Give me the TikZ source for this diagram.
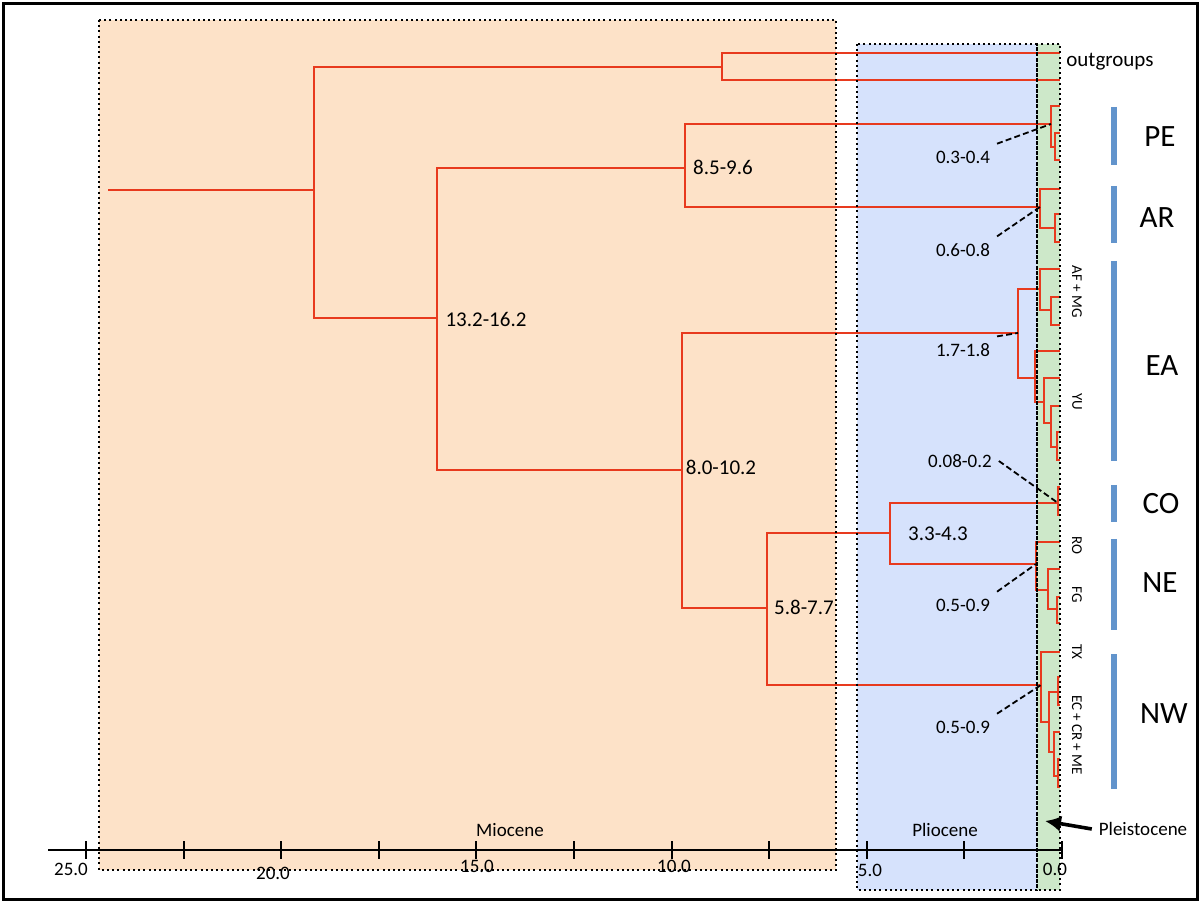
\documentclass[tikz,border=0pt]{standalone}
\usepackage{fontspec}
\setmainfont{Carlito}
\usetikzlibrary{arrows.meta}
\definecolor{treered}{RGB}{232,58,30}
\definecolor{mioorange}{RGB}{253,226,200}
\definecolor{plioblue}{RGB}{214,226,252}
\definecolor{pleigreen}{RGB}{205,232,201}
\definecolor{cladeblue}{RGB}{98,148,204}
\tikzset{branch/.style={treered, line width=1pt}}
\tikzset{epoch/.style={dash pattern=on 1pt off 1.6pt, line width=1.1pt}}
\tikzset{age/.style={font=\fontsize{10.5}{12}\selectfont}}
\tikzset{tipage/.style={font=\fontsize{9.5}{11}\selectfont}}
\tikzset{note/.style={dash pattern=on 3pt off 1.6pt, line width=0.9pt}}
\tikzset{clade/.style={font=\fontsize{15.5}{18}\selectfont}}
\tikzset{bar/.style={cladeblue, line width=3pt}}
\tikzset{sub/.style={rotate=-90, font=\fontsize{7.5}{9}\selectfont}}
\tikzset{scalebar/.style={line width=1pt}}

\begin{document}
\begin{tikzpicture}[x=0.5pt, y=-0.5pt]
\useasboundingbox (0,0) rectangle (1200,903);
\draw[line width=1.5pt] (3,4) rectangle (1197,899);
\fill[mioorange] (99,20) rectangle (836,870);
\fill[plioblue] (857,44) rectangle (1037,890);
\fill[pleigreen] (1037,44) rectangle (1060,890);

% tree
\coordinate (root) at (108,190);
\coordinate (n1) at (314,190);
\coordinate (og) at (722,67);
\coordinate (n2) at (437,318);
\coordinate (n3) at (685,168);
\coordinate (n4) at (682,470);
\coordinate (n5) at (767,608);
\coordinate (n6) at (890,533);
\coordinate (pe) at (1051,124);
\coordinate (p1) at (1055,147);
\coordinate (ar) at (1040,207);
\coordinate (a1) at (1055,228);
\coordinate (ea) at (1018,333);
\coordinate (e1) at (1040,289);
\coordinate (e2) at (1035,378);
\coordinate (e3) at (1051,310);
\coordinate (e4) at (1044,402);
\coordinate (e5) at (1051,423);
\coordinate (e6) at (1057,447);
\coordinate (co) at (1058,503);
\coordinate (ne) at (1036,564);
\coordinate (f1) at (1048,590);
\coordinate (f2) at (1057,609);
\coordinate (nw) at (1041,685);
\coordinate (w1) at (1049,722);
\coordinate (w2) at (1058,692);
\coordinate (w3) at (1054,752);
\coordinate (w4) at (1058,776);
\draw[branch] (root) -- (n1);
\foreach \p/\c in {n1/og, n1/n2, n2/n3, n2/n4, n3/pe, n3/ar, n4/ea, n4/n5, n5/n6, n5/nw, n6/co, n6/ne,
  pe/p1, ar/a1, ea/e1, ea/e2, e1/e3, e2/e4, e4/e5, e5/e6, ne/f1, f1/f2, nw/w1, w1/w2, w1/w3, w3/w4}
  \draw[branch] (\p) |- (\c);
\foreach \p/\y in {og/53, og/80, pe/106, p1/133, p1/160, ar/189, a1/214, a1/242,
  e1/269, e3/297, e3/325, e2/351, e4/378, e5/406, e6/432, e6/460, co/487, co/515,
  ne/542, f1/569, f2/597, f2/623, nw/652, w2/677, w2/705, w3/732, w4/759, w4/787}
  \draw[branch] (\p) |- (1060,\y);

% epochs
\draw[epoch] (99,20) rectangle (836,870);
\draw[epoch] (857,44) rectangle (1037,890);
\draw[epoch] (1037,44) rectangle (1060,890);

\node[age] (a1) at (723,167) {8.5-9.6};
\node[age] (a2) at (486,319) {13.2-16.2};
\node[age] (a3) at (721,467) {8.0-10.2};
\node[age] (a4) at (804,607) {5.8-7.7};
\node[age] (a5) at (938,534) {3.3-4.3};

\node[tipage] (lpe) at (963,157) {0.3-0.4};
\node[tipage] (lar) at (963,250) {0.6-0.8};
\node[tipage] (lea) at (963,350) {1.7-1.8};
\node[tipage] (lco) at (960,461) {0.08-0.2};
\node[tipage] (lne) at (963,605) {0.5-0.9};
\node[tipage] (lnw) at (963,727) {0.5-0.9};
\draw[note] (lpe.north east) -- (pe);
\draw[note] (lar.north east) -- (ar);
\draw[note] (lea.north east) -- (ea);
\draw[note] (lco.east) -- (co);
\draw[note] (lne.north east) -- (ne);
\draw[note] (lnw.north east) -- (nw);

\node[age] (outg) at (1110,62) {outgroups};
\node[sub] (afmg) at (1077,292) {AF + MG};
\node[sub] (yu) at (1077,402) {YU};
\node[sub] (ro) at (1077,545) {RO};
\node[sub] (fg) at (1077,595) {FG};
\node[sub] (tx) at (1077,652) {TX};
\node[sub] (eccr) at (1077,735) {EC + CR + ME};

\draw[bar] (1114,107) -- (1114,165);
\draw[bar] (1114,186) -- (1114,243);
\draw[bar] (1114,261) -- (1114,461);
\draw[bar] (1114,485) -- (1114,522);
\draw[bar] (1114,539) -- (1114,630);
\draw[bar] (1114,654) -- (1114,789);
\node[clade] (cpe) at (1160,137) {PE};
\node[clade] (car) at (1157,218) {AR};
\node[clade] (cea) at (1162,366) {EA};
\node[clade] (cco) at (1161,504) {CO};
\node[clade] (cne) at (1160,583) {NE};
\node[clade] (cnw) at (1164,714) {NW};

% time axis
\draw[scalebar] (48,850) -- (1062,850);
\foreach \i in {0,...,10}
  \draw[scalebar] (86+97.6*\i,841) -- ++(0,18);
\node[tipage] (t25) at (71,869) {25.0};
\node[tipage] (t20) at (273,873) {20.0};
\node[tipage] (t15) at (477,866) {15.0};
\node[tipage] (t10) at (674,866) {10.0};
\node[tipage] (t5) at (870,870) {5.0};
\node[tipage] (t0) at (1055,869) {0.0};
\node[tipage] (mio) at (510,830) {Miocene};
\node[tipage] (plio) at (945,830) {Pliocene};
\node[tipage] (pleis) at (1143,829) {Pleistocene};
\coordinate (pleistip) at (1045,821);
\draw[line width=1.8pt, -{Latex[length=8pt, width=8pt]}] (pleis.west) -- (pleistip);
\end{tikzpicture}
\end{document}
